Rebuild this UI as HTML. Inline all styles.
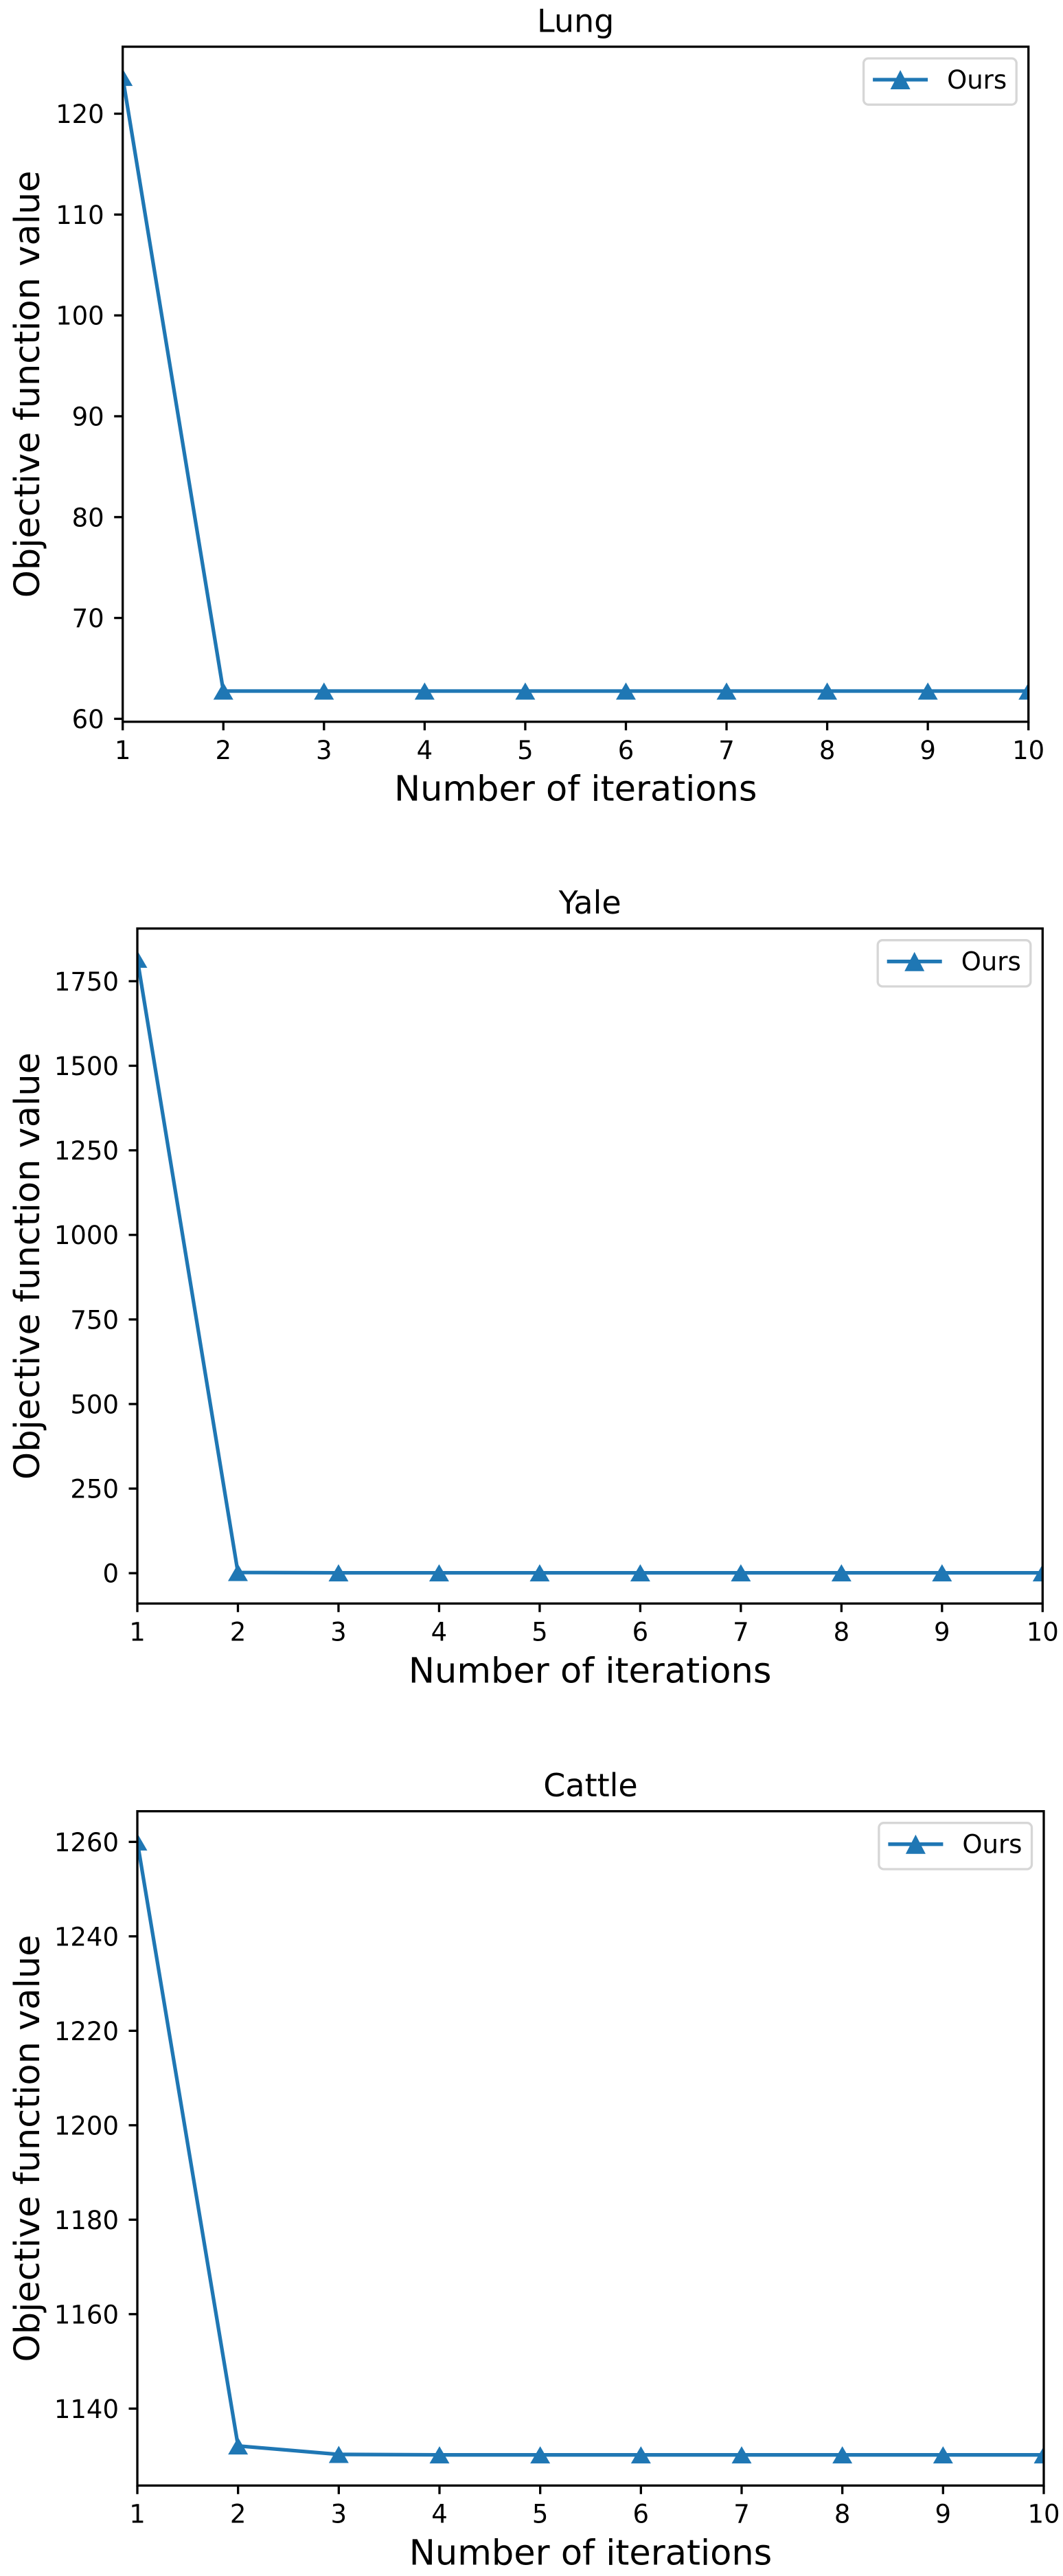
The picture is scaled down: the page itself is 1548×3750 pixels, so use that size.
<!DOCTYPE html>
<html>
<head>
<meta charset="utf-8">
<style>
  html,body{margin:0;padding:0;background:#fff;}
  svg{display:block;}
  text{font-family:"DejaVu Sans","Liberation Sans",sans-serif;fill:#000;}
</style>
</head>
<body>
<svg id="fig" width="1548" height="3750" viewBox="0 0 1548 3750" xmlns="http://www.w3.org/2000/svg"></svg>
<script>
// ---- data ----
const iterations = [1,2,3,4,5,6,7,8,9,10];
const xTickLabels = ["1","2","3","4","5","6","7","8","9","10"];

const lungValues = [123.6,62.75,62.75,62.75,62.75,62.75,62.75,62.75,62.75,62.75];
const lungTicks = [60,70,80,90,100,110,120];

const yaleValues = [1815,2,1,1,1,1,1,1,1,1];
const yaleTicks = [0,250,500,750,1000,1250,1500,1750];

const cattleValues = [1260,1132.1,1130.3,1130.2,1130.2,1130.2,1130.2,1130.2,1130.2,1130.2];
const cattleTicks = [1140,1160,1180,1200,1220,1240,1260];

const panelTitles = ["Lung","Yale","Cattle"];

// ---- layout ----
const panels = [
  {title: panelTitles[0], values: lungValues, ticks: lungTicks, L:178.7, R:1497.7, T:68, B:1050.7, key:'lung'},
  {title: panelTitles[1], values: yaleValues, ticks: yaleTicks, L:200, R:1518.3, T:1351.7, B:2334.3, key:'yale'},
  {title: panelTitles[2], values: cattleValues, ticks: cattleTicks, L:200, R:1520, T:2636.7, B:3618.3, key:'cattle'}
];
const NS = "http://www.w3.org/2000/svg";
const svg = document.getElementById('fig');
const COLOR = "#1f77b4";

function mk(tag, attrs, parent){
  const e = document.createElementNS(NS, tag);
  for (const k in attrs) e.setAttribute(k, attrs[k]);
  (parent||svg).appendChild(e);
  return e;
}

panels.forEach((p, pi) => {
  const g = mk('g', {});
  
  

  const vmin = Math.min(...p.values), vmax = Math.max(...p.values);
  const m = (vmax - vmin) * 0.05 || 1;
  const y0 = vmin - m, y1 = vmax + m;
  const xMin = iterations[0], xMax = iterations[iterations.length-1];
  const xs = v => p.L + (v - xMin) / (xMax - xMin) * (p.R - p.L);
  const ys = v => p.B - (v - y0) / (y1 - y0) * (p.B - p.T);

  // clip
  const cp = mk('clipPath', {id: 'clip' + pi}, g);
  mk('rect', {x: p.L, y: p.T, width: p.R - p.L, height: p.B - p.T}, cp);

  // series
  const sg = mk('g', {'clip-path': 'url(#clip' + pi + ')'}, g);
  
  
  const pts = iterations.map((x, i) => xs(x).toFixed(2) + ',' + ys(p.values[i]).toFixed(2)).join(' ');
  const line = mk('polyline', {points: pts, fill: 'none', stroke: COLOR, 'stroke-width': 5.3, 'stroke-linejoin': 'round'}, sg);
  
  
  iterations.forEach((x, i) => {
    const cx = xs(x), cy = ys(p.values[i]);
    const t = mk('polygon', {points: `${cx},${cy-12.5} ${cx-14.5},${cy+12.5} ${cx+14.5},${cy+12.5}`, fill: COLOR}, sg);
    
    
  });

  // axes frame
  const fr = mk('rect', {x: p.L, y: p.T, width: p.R - p.L, height: p.B - p.T, fill: 'none', stroke: '#000', 'stroke-width': 3.3}, g);
  
  

  // x ticks
  iterations.forEach((x, i) => {
    const px = xs(x);
    mk('line', {x1: px, y1: p.B, x2: px, y2: p.B + 12.5, stroke: '#000', 'stroke-width': 3.3}, g);
    const tl = mk('text', {x: px, y: p.B + 54.3, 'font-size': 37, 'text-anchor': 'middle'}, g);
    tl.textContent = xTickLabels[i];
    
    
  });
  // y ticks
  p.ticks.forEach(v => {
    if (v < y0 || v > y1) return;
    const py = ys(v);
    mk('line', {x1: p.L - 12.5, y1: py, x2: p.L, y2: py, stroke: '#000', 'stroke-width': 3.3}, g);
    const tl = mk('text', {x: p.L - 27, y: py + 13.5, 'font-size': 37, 'text-anchor': 'end'}, g);
    tl.textContent = String(v);
    
    
  });

  // title
  const cx = (p.L + p.R) / 2, cyMid = (p.T + p.B) / 2;
  const ti = mk('text', {x: cx, y: p.T - 21.7, 'font-size': 46, 'text-anchor': 'middle'}, g);
  ti.textContent = p.title;
  
  

  // x label
  const xl = mk('text', {x: cx, y: p.B + 115, 'font-size': 51, 'text-anchor': 'middle'}, g);
  xl.textContent = "Number of iterations";
  
  

  // y label
  const yl = mk('text', {x: 0, y: 0, 'font-size': 51, 'text-anchor': 'middle', transform: `translate(57,${cyMid}) rotate(-90)`}, g);
  yl.textContent = "Objective function value";
  
  

  // legend
  const lg = mk('g', {}, g);
  
  
  const lr = p.R - 17.5, lt = p.T + 17;
  const lx = lr - 222.6;
  mk('rect', {x: lx, y: lt, width: 222.6, height: 67.3, rx: 7, ry: 7, fill: '#fff', stroke: '#d6d6d6', 'stroke-width': 3.3}, lg);
  const ly = lt + 31;
  mk('line', {x1: lx + 13.5, y1: ly, x2: lx + 93.5, y2: ly, stroke: COLOR, 'stroke-width': 5.3}, lg);
  const mx = lx + 53.5;
  mk('polygon', {points: `${mx},${ly-14} ${mx-14.5},${ly+14} ${mx+14.5},${ly+14}`, fill: COLOR}, lg);
  const lt2 = mk('text', {x: lx + 121.5, y: lt + 44, 'font-size': 37}, lg);
  lt2.textContent = "Ours";
  
  
});
</script>
</body>
</html>
